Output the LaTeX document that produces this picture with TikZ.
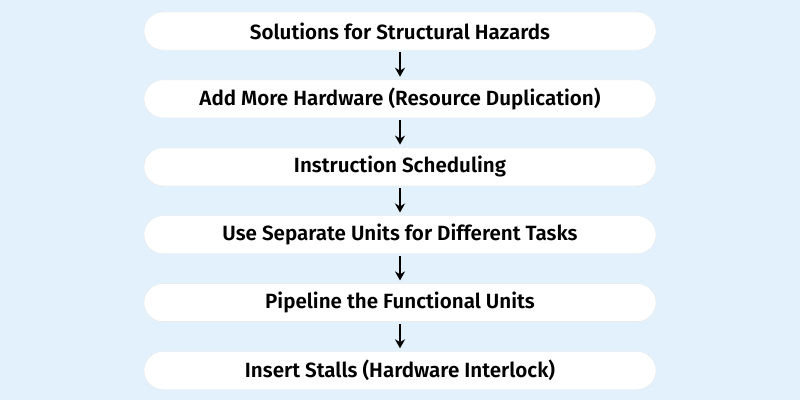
\documentclass[tikz,border=0pt]{standalone}
\usepackage{fontspec}
\setmainfont{Fira Sans}[BoldFont={* SemiBold}]
\usepackage{tikz}
\usetikzlibrary{positioning,arrows.meta}
\definecolor{bgblue}{HTML}{E3F1FC}
\definecolor{rim}{HTML}{E6E9EC}

\begin{document}
\begin{tikzpicture}[
  x = 1pt,
  y = 1pt,
  stepbox/.style = {
    draw = rim,
    fill = white,
    rounded corners = 19pt,
    minimum width = 512pt,
    minimum height = 38pt,
    font = \fontsize{20.6}{24}\selectfont\bfseries,
  },
  link/.style = {
    ->,
    line width = 1.7pt,
  },
  >={Stealth[length=9pt,width=10pt]},
]

  \fill[bgblue] (0,0) rectangle (800,-400);
  \useasboundingbox (0,0) rectangle (800,-400);

  %
  \node[stepbox] (s0) at (400,-31) {Solutions for Structural Hazards};
  \node[stepbox] (s1) [below=29.5pt of s0] {Add More Hardware (Resource Duplication)};
  \node[stepbox] (s2) [below=29.5pt of s1] {Instruction Scheduling};
  \node[stepbox] (s3) [below=29.5pt of s2] {Use Separate Units for Different Tasks};
  \node[stepbox] (s4) [below=29.5pt of s3] {Pipeline the Functional Units};
  \node[stepbox] (s5) [below=29.5pt of s4] {Insert Stalls (Hardware Interlock)};

  \foreach \a/\b in {s0/s1,s1/s2,s2/s3,s3/s4,s4/s5}
    \draw[link] ([yshift=-2pt]\a.south) -- ([yshift=3pt]\b.north);

\end{tikzpicture}
\end{document}
